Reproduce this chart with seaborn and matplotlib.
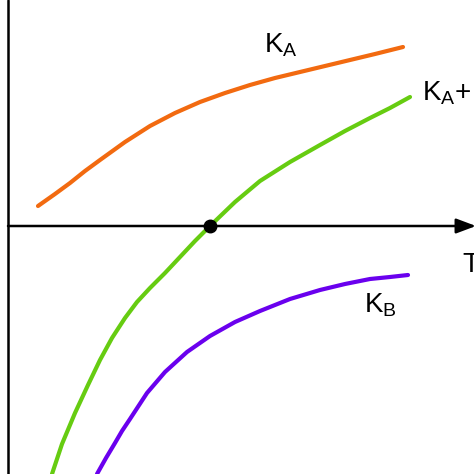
import matplotlib
matplotlib.use("Agg")
import matplotlib.pyplot as plt
import seaborn as sns
import pandas as pd

sns.set_style("white")
plt.rcParams['font.family'] = ['Liberation Sans', 'DejaVu Sans']

ka_x = [38, 55, 70, 85, 100, 125, 150, 175, 200, 225, 250, 275, 300, 325, 350, 375, 403]
ka_y = [206, 194, 183, 171, 160, 142, 126, 113, 102, 93, 85, 78, 72, 66, 60, 54, 47]
kab_x = [52, 62, 75, 88, 100, 112, 125, 137, 150, 165, 180, 195, 210, 235, 260, 290, 320, 345, 370, 390, 410]
kab_y = [474, 444, 413, 385, 360, 338, 318, 302, 288, 273, 257, 241, 226, 202, 181, 162, 145, 131, 118, 108, 97]
kb_x = [97, 106, 115, 122, 130, 147, 165, 187, 210, 235, 260, 290, 320, 345, 370, 390, 408]
kb_y = [474, 458, 443, 431, 419, 393, 372, 352, 336, 322, 311, 299, 290, 284, 279, 277, 275]

fig = plt.figure(figsize=(4.74, 4.74), dpi=100)
ax = fig.add_axes([0, 0, 1, 1])
ax.set_xlim(0, 474)
ax.set_ylim(474, 0)
ax.axis('off')

for xs, ys, c in [(ka_x, ka_y, '#f26a10'), (kab_x, kab_y, '#66cc11'), (kb_x, kb_y, '#6a00ee')]:
    df = pd.DataFrame({'x': xs, 'y': ys})
    sns.lineplot(data=df, x='x', y='y', ax=ax, color=c, lw=3, sort=False, estimator=None)

ax.plot([8, 8], [0, 474], color='black', lw=1.8)
ax.annotate('', xy=(476, 226), xytext=(8, 226), annotation_clip=False,
            arrowprops=dict(arrowstyle='-|>,head_length=1.2,head_width=0.45',
                            color='black', lw=1.8, shrinkA=0, shrinkB=0))
ax.plot([210], [226], 'o', color='black', ms=9)

kw = dict(fontsize=20, color='black')
ax.text(264, 52, r'K$_\mathregular{A}$', **kw)
ax.text(422, 100, r'K$_\mathregular{A}$+', **kw)
ax.text(364, 312, r'K$_\mathregular{B}$', **kw)
ax.text(462, 272, 'T', **kw)

fig.savefig('out.png', dpi=100)
